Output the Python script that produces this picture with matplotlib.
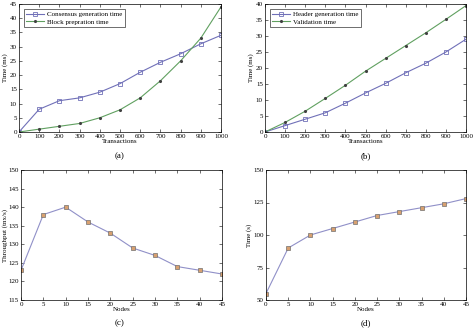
import matplotlib
matplotlib.use("Agg")
import matplotlib.pyplot as plt

plt.rcParams["font.family"] = ["Liberation Serif", "DejaVu Serif"]
plt.rcParams["font.size"] = 5

transactions = [0, 100, 200, 300, 400, 500, 600, 700, 800, 900, 1000]
consensus_time = [0, 8, 11, 12, 14, 17, 21, 24.5, 27.5, 31, 34]
block_time = [0, 1, 2, 3, 5, 7.8, 12, 18, 25, 33, 44]
header_time = [0, 2, 4, 6, 9, 12.2, 15.2, 18.5, 21.5, 25, 29]
validation_time = [0, 3, 6.5, 10.5, 14.6, 19, 23, 27, 31, 35.2, 39.5]

nodes = [0, 5, 10, 15, 20, 25, 30, 35, 40, 45]
throughput = [123, 138, 140, 136, 133, 129, 127, 124, 123, 122]
node_time = [55, 90, 100, 105, 110, 115, 118, 121, 124, 128]

W, H = 474, 328
fig = plt.figure(figsize=(W / 100, H / 100), dpi=100)


def add_ax(x0, y0, x1, y1):
    return fig.add_axes([x0 / W, 1 - y1 / H, (x1 - x0) / W, (y1 - y0) / H])


def style(ax):
    ax.tick_params(direction="in", length=2, width=0.4, pad=1.5, top=True, right=True)
    for s in ax.spines.values():
        s.set_linewidth(0.5)


def add_legend(ax):
    leg = ax.legend(loc="upper left", fontsize=5, frameon=True, fancybox=False,
                    edgecolor="black", handlelength=2.5, borderpad=0.35,
                    labelspacing=0.25, handletextpad=0.5, borderaxespad=0.7)
    leg.get_frame().set_linewidth(0.5)


blue = "#7070b8"
green = "#60a060"

ax_a = add_ax(19, 4, 221, 132)
ax_a.plot(transactions, consensus_time, color=blue, lw=0.8, marker="s", ms=3,
          mfc="none", mec=blue, mew=0.6, label="Consensus generation time")
ax_a.plot(transactions, block_time, color=green, lw=0.8, marker=".", ms=2.5,
          mfc="#404040", mec="#404040", label="Block prepration time")
ax_a.set_xlim(0, 1000)
ax_a.set_ylim(0, 45)
ax_a.set_xticks(transactions)
ax_a.set_yticks(range(0, 46, 5))
ax_a.set_xlabel("Transactions", labelpad=0)
ax_a.set_ylabel("Time (ms)", labelpad=1)
add_legend(ax_a)
style(ax_a)

ax_b = add_ax(265, 4, 466, 132)
ax_b.plot(transactions, header_time, color=blue, lw=0.8, marker="s", ms=3,
          mfc="none", mec=blue, mew=0.6, label="Header generation time")
ax_b.plot(transactions, validation_time, color=green, lw=0.8, marker=".", ms=2.5,
          mfc="#404040", mec="#404040", label="Validation time")
ax_b.set_xlim(0, 1000)
ax_b.set_ylim(0, 40)
ax_b.set_xticks(transactions)
ax_b.set_yticks(range(0, 41, 5))
ax_b.set_xlabel("Transactions", labelpad=0)
ax_b.set_ylabel("Time (ms)", labelpad=1)
add_legend(ax_b)
style(ax_b)

line_c = "#9090c8"
mark_c = "#d8a070"

ax_c = add_ax(21, 170, 222, 300)
ax_c.plot(nodes, throughput, color=line_c, lw=0.8, marker="s", ms=3,
          mfc=mark_c, mec="#707070", mew=0.5)
ax_c.set_xlim(0, 45)
ax_c.set_ylim(115, 150)
ax_c.set_xticks(nodes)
ax_c.set_yticks(range(115, 151, 5))
ax_c.set_xlabel("Nodes", labelpad=0)
ax_c.set_ylabel("Throughput (tnx/s)", labelpad=0)
style(ax_c)

ax_d = add_ax(266, 170, 466, 300)
ax_d.plot(nodes, node_time, color=line_c, lw=0.8, marker="s", ms=3,
          mfc=mark_c, mec="#707070", mew=0.5)
ax_d.set_xlim(0, 45)
ax_d.set_ylim(50, 150)
ax_d.set_xticks(nodes)
ax_d.set_yticks(range(50, 151, 25))
ax_d.set_xlabel("Nodes", labelpad=0)
ax_d.set_ylabel("Time (s)", labelpad=1)
style(ax_d)

for label, x, y in [("(a)", 120, 156), ("(b)", 366, 156), ("(c)", 120, 323), ("(d)", 366, 323)]:
    fig.text(x / W, 1 - y / H, label, ha="center", va="center", fontsize=6.5)

fig.savefig("out.png", dpi=100)
